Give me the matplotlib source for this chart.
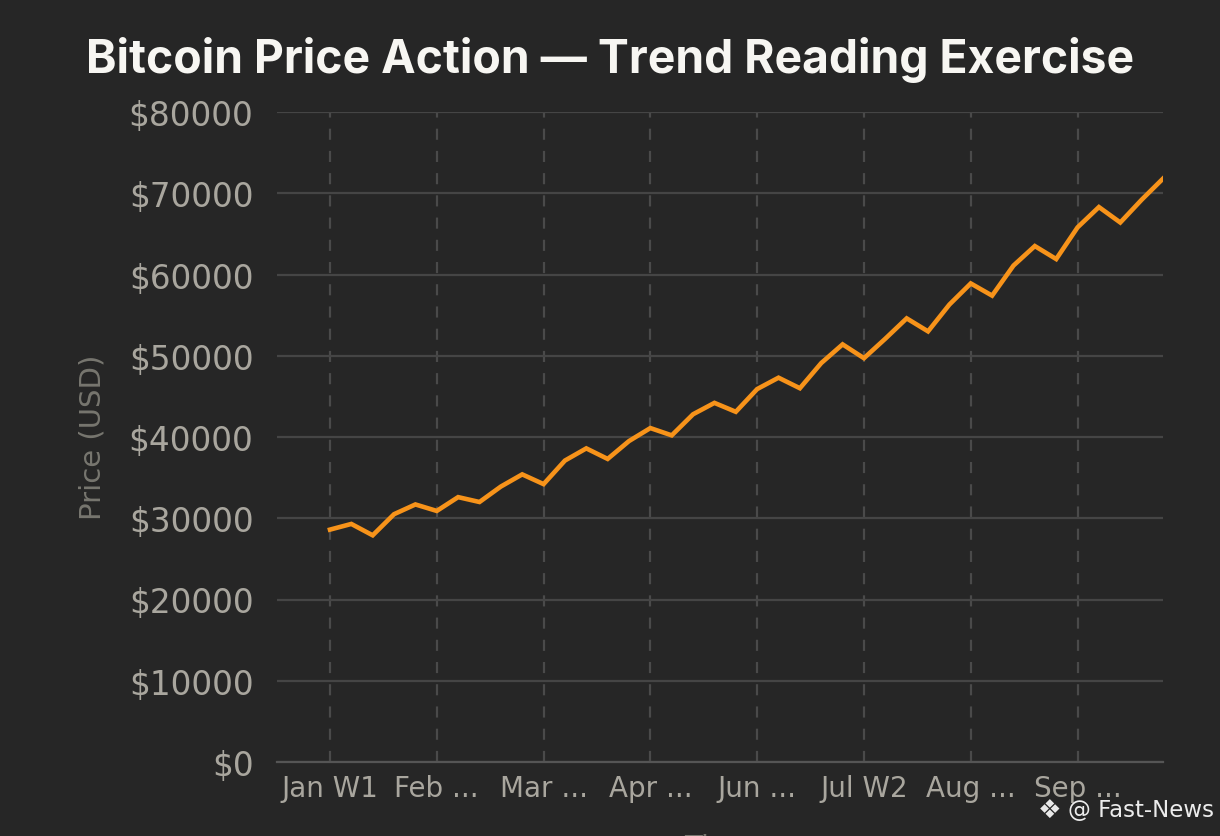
import matplotlib
matplotlib.use("Agg")
import matplotlib.pyplot as plt
import numpy as np

# weekly closing prices
prices = [28600, 29300, 27900, 30500, 31700, 30900, 32600, 32000, 33900, 35400,
          34200, 37100, 38600, 37300, 39500, 41100, 40200, 42800, 44200, 43100,
          45900, 47300, 46000, 49100, 51400, 49700, 52100, 54600, 53000, 56300,
          58900, 57400, 61100, 63500, 61900, 65800, 68300, 66400, 69200, 71800]
tick_idx = [0, 5, 10, 15, 20, 25, 30, 35]
tick_labels = ["Jan W1", "Feb ...", "Mar ...", "Apr ...", "Jun ...", "Jul W2", "Aug ...", "Sep ..."]
y_ticks = [0, 10000, 20000, 30000, 40000, 50000, 60000, 70000, 80000]

bg = "#262626"
fig = plt.figure(figsize=(12.2, 8.37), dpi=100, facecolor=bg)
ax = fig.add_axes([277 / 1220, 1 - 763 / 837, (1163 - 277) / 1220, (763 - 113) / 837])
ax.set_facecolor(bg)

x = np.arange(len(prices))
ax.plot(x, prices, color="#F7931A", lw=3.3, solid_joinstyle="miter", zorder=3)

ax.set_xlim(-2.48, len(prices) - 1)
ax.set_ylim(0, 80000)
ax.set_yticks(y_ticks)
ax.set_yticklabels([f"${v}" for v in y_ticks])
ax.set_xticks(tick_idx)
ax.set_xticklabels(tick_labels)

ax.grid(axis="y", color="#454545", lw=1.6, ls="-")
ax.grid(axis="x", color="#4a4a4a", lw=1.6, ls=(0, (5, 5)))
ax.set_axisbelow(True)
for s in ["top", "right", "left"]:
    ax.spines[s].set_visible(False)
ax.spines["bottom"].set_color("#555555")
ax.spines["bottom"].set_linewidth(1.6)

ax.tick_params(axis="y", length=0, pad=17, labelsize=23.5, labelcolor="#a9a69e")
ax.tick_params(axis="x", length=0, pad=9, labelsize=20, labelcolor="#a9a69e")
for t in ax.get_xticklabels() + ax.get_yticklabels():
    t.set_family("DejaVu Sans")

fig.text(92 / 1220, 1 - 437 / 837, "Price (USD)", rotation=90, ha="center", va="center",
         fontsize=21, color="#77766f", family="DejaVu Sans")
fig.text(720 / 1220, 1 - 848 / 837, "Time", ha="center", va="center",
         fontsize=21, color="#77766f", family="DejaVu Sans")

fig.text(0.5, 1 - 60 / 837, "Bitcoin Price Action \u2014 Trend Reading Exercise",
         ha="center", va="center", fontsize=33.3, fontweight="bold", color="#f7f6f2",
         family="Inter")

# watermark
fig.text(1050 / 1220, 1 - 811 / 837, "\u2756", ha="center", va="center",
         fontsize=19, color="#e8e8e8", family="DejaVu Sans")
fig.text(1068 / 1220, 1 - 811 / 837, "@ Fast-News", ha="left", va="center",
         fontsize=16.5, color="#ececec", family="DejaVu Sans")

fig.savefig("out.png", dpi=100, facecolor=bg)
